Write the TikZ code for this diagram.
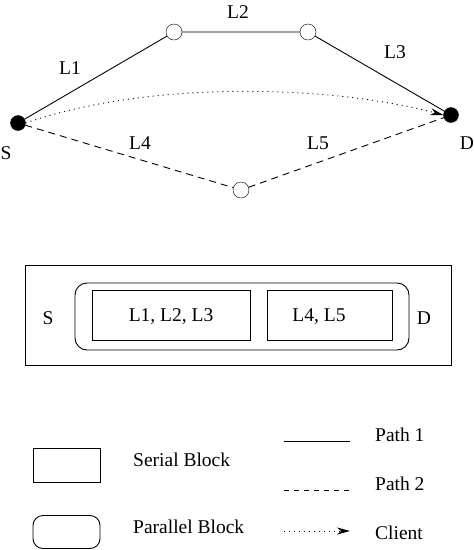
\documentclass[tikz,border=0pt]{standalone}
\usepackage{fontspec}
\setmainfont{Liberation Serif}
\usetikzlibrary{arrows.meta}
\begin{document}
\begin{tikzpicture}[x=1pt,y=-1pt,
  txt/.style={font=\fontsize{19.5}{22}\selectfont,inner sep=0pt},
  filled/.style={circle,fill=black,draw,minimum size=15pt,inner sep=0pt},
  hollow/.style={circle,draw,minimum size=16pt,inner sep=0pt},
  lnk/.style={line width=0.9pt},
  path2/.style={line width=0.9pt,dash pattern=on 7pt off 5pt},
  client/.style={line width=0.9pt,dash pattern=on 1pt off 4pt,-{Stealth[length=13pt,width=7pt]}},
  serial/.style={draw,line width=0.9pt},
  parallel/.style={draw,line width=0.9pt,rounded corners=12pt}]
\useasboundingbox (0,0) rectangle (474,550);
% top graph
\node[filled] (S) at (18,123) {};
\node[filled] (D) at (451,115) {};
\node[hollow] (A) at (174,32) {};
\node[hollow] (B) at (308,32) {};
\node[hollow] (C) at (241,190) {};
\draw[lnk] (S) -- (A) -- (B) -- (D);
\draw[path2] (S) -- (C) -- (D);
\draw[client] (S.east) .. controls (150,80) and (330,85) .. (D.west);
\node[txt] (l1) at (70,68) {L1};
\node[txt] (l2) at (238,12) {L2};
\node[txt] (l3) at (395,52) {L3};
\node[txt] (l4) at (140,143) {L4};
\node[txt] (l5) at (318,143) {L5};
\node[txt] (sl) at (6,153) {S};
\node[txt] (dl) at (467,143) {D};
% block diagram
\node[serial,minimum width=426pt,minimum height=100pt] (outer) at (238,315) {};
\node[parallel,minimum width=334pt,minimum height=67pt] (par) at (242,316.5) {};
\node[serial,minimum width=158pt,minimum height=50pt] (b1) at (171,315) {};
\node[serial,minimum width=125pt,minimum height=50pt] (b2) at (329.5,315) {};
\node[txt] (t1) at (171,317) {L1, L2, L3};
\node[txt] (t2) at (319,317) {L4, L5};
\node[txt] (so) at (48,318) {S};
\node[txt] (do) at (424,318) {D};
% legend
\node[serial,minimum width=67pt,minimum height=34pt] (ls) at (66.5,465) {};
\node[txt,anchor=west] (lst) at (133,460) {Serial Block};
\node[parallel,minimum width=67pt,minimum height=33pt,rounded corners=10pt] (lp) at (66.5,532) {};
\node[txt,anchor=west] (lpt) at (133,527) {Parallel Block};
\coordinate (p1a) at (284,441);
\coordinate (p1b) at (350,441);
\draw[lnk] (p1a) -- (p1b);
\coordinate (p2a) at (284,490);
\coordinate (p2b) at (350,490);
\draw[line width=0.9pt,dash pattern=on 5pt off 5pt] (p2a) -- (p2b);
\coordinate (p3a) at (284,531);
\coordinate (p3b) at (350,531);
\draw[client] (p3a) -- (p3b);
\node[txt,anchor=west] (pt1) at (375,435) {Path 1};
\node[txt,anchor=west] (pt2) at (375,484) {Path 2};
\node[txt,anchor=west] (pt3) at (375,533) {Client};
\end{tikzpicture}
\end{document}
